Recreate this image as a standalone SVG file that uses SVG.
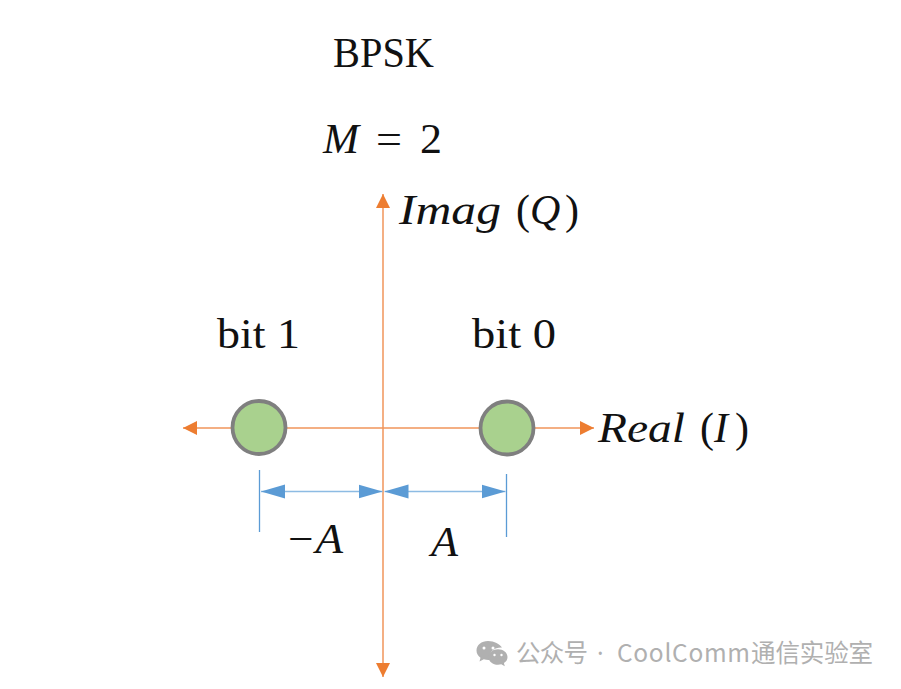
<svg xmlns="http://www.w3.org/2000/svg" width="901" height="689" viewBox="0 0 901 689">
<style>
.t{font-family:"Liberation Serif","DejaVu Serif",serif;fill:#111;font-size:42px}
.m{font-family:"Liberation Serif","DejaVu Serif",serif;font-style:italic;fill:#111;font-size:42px}
.r{font-family:"Liberation Serif","DejaVu Serif",serif;fill:#111;font-size:42px}
.o{stroke:#f0955a;stroke-width:1.5;fill:none}
.b{stroke:#5b9bd5;stroke-width:1.3;fill:none}
.bl{stroke:#8dbbe3;stroke-width:1.5;fill:none}
.n{fill:#a9d18e;stroke:#7f7f7f;stroke-width:3.8}
.w{font-family:"Noto Sans CJK SC","Noto Sans",sans-serif;font-size:24.5px;fill:#b0b0b0}
</style>
<defs>
<marker id="ao" markerUnits="userSpaceOnUse" markerWidth="14" markerHeight="16" refX="14" refY="8" orient="auto-start-reverse"><path d="M0 1L14 8L0 15Z" fill="#ed7d31"/></marker>
<marker id="ab" markerUnits="userSpaceOnUse" markerWidth="24" markerHeight="16" refX="24" refY="8" orient="auto-start-reverse"><path d="M0 1L24 8L0 15Z" fill="#5b9bd5"/></marker>
</defs>
<rect width="901" height="689" fill="#fff"/>
<g id="connectors">
<path class="o" d="M383 677V194" marker-start="url(#ao)" marker-end="url(#ao)"/>
<path class="o" d="M183 428H594" marker-start="url(#ao)" marker-end="url(#ao)"/>
<path class="b" d="M259.500 470V532M506.500 474V537"/>
<path class="bl" d="M261 491.500H382.500" marker-start="url(#ab)" marker-end="url(#ab)"/>
<path class="bl" d="M384.500 491.500H505.500" marker-start="url(#ab)" marker-end="url(#ab)"/>
</g>
<g id="title"><text class="t" x="333" y="67" textLength="101" lengthAdjust="spacingAndGlyphs">BPSK</text></g>
<g id="order"><text class="m" x="323" y="153" textLength="36" lengthAdjust="spacingAndGlyphs">M</text><text class="r" x="376" y="153" textLength="26" lengthAdjust="spacingAndGlyphs">=</text><text class="r" x="420" y="153" textLength="22" lengthAdjust="spacingAndGlyphs">2</text></g>
<g id="axis-q"><text class="m" x="399" y="224" textLength="102" lengthAdjust="spacingAndGlyphs">Imag</text><text class="r" x="516" y="224">(</text><text class="m" x="530" y="224">Q</text><text class="r" x="565" y="224">)</text></g>
<g id="axis-i"><text class="m" x="598" y="442" textLength="87" lengthAdjust="spacingAndGlyphs">Real</text><text class="r" x="700" y="442">(</text><text class="m" x="714" y="442">I</text><text class="r" x="735" y="442">)</text></g>
<g id="bit1"><circle class="n" cx="259" cy="427.500" r="26.500"/><text class="t" x="217" y="348" textLength="83" lengthAdjust="spacingAndGlyphs">bit 1</text></g>
<g id="bit0"><circle class="n" cx="507" cy="428" r="26.500"/><text class="t" x="472" y="348" textLength="84" lengthAdjust="spacingAndGlyphs">bit 0</text></g>
<g id="label-neg"><text class="m" x="285" y="553" textLength="58" lengthAdjust="spacingAndGlyphs">−A</text></g>
<g id="label-pos"><text class="m" x="431" y="556" textLength="27" lengthAdjust="spacingAndGlyphs">A</text></g>
<g id="watermark">
<path d="M488 641c-6.500 0-11.500 4-11.500 9.500 0 3 1.500 5.500 4 7.300l-1 3.700 4.300-2.200c1.500.4 3 .6 4.700.6 .5 0 1 0 1.500 0-.3-1-.5-2-.5-3 0-5.500 5-9.500 11.500-9.500h1C499.500 644 494.500 641 488 641z" fill="#b0b0b0"/>
<path d="M507.500 657c0-4.500-4.300-7.800-9.500-7.800s-9.500 3.300-9.500 7.800 4.300 7.800 9.500 7.800c1.200 0 2.300-.2 3.300-.5l3.500 1.900-.9-3.100c2.500-1.500 3.600-3.600 3.600-6.100z" fill="#b0b0b0"/>
<g fill="#fff"><circle cx="484" cy="648" r="1.500"/><circle cx="493" cy="648" r="1.500"/><circle cx="494.500" cy="655" r="1.200"/><circle cx="501.500" cy="655" r="1.200"/></g>
<text class="w" x="516" y="662" textLength="72" lengthAdjust="spacing">公众号</text>
<text class="w" x="597" y="662" style="font-family:'Noto Sans',sans-serif">·</text>
<text class="w" x="617" y="662" textLength="133" lengthAdjust="spacing">CoolComm</text>
<text class="w" x="751" y="662" textLength="122" lengthAdjust="spacing">通信实验室</text>
</g>
</svg>
